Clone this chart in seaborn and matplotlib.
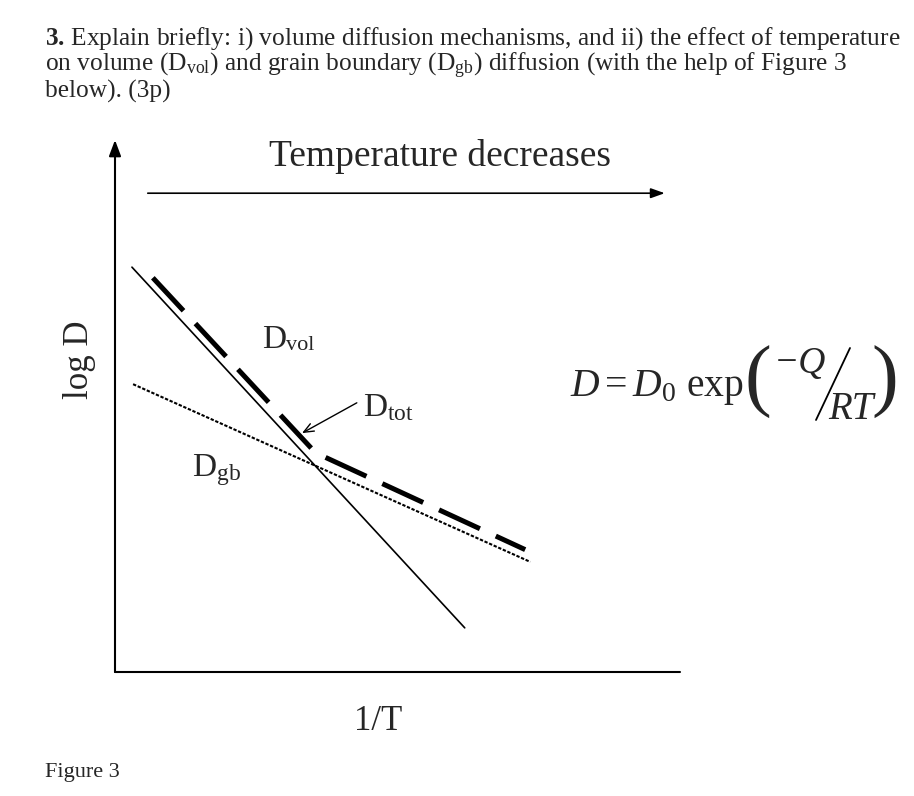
import matplotlib
matplotlib.use("Agg")

import matplotlib.pyplot as plt
import seaborn as sns
from matplotlib.lines import Line2D

sns.set_theme(style="white")
plt.rcParams["font.family"] = ["Liberation Serif", "DejaVu Serif"]
plt.rcParams["mathtext.fontset"] = "custom"
plt.rcParams["mathtext.rm"] = "Liberation Serif"
plt.rcParams["mathtext.it"] = "Liberation Serif:italic"
plt.rcParams["mathtext.bf"] = "Liberation Serif:bold"

# schematic Arrhenius lines (arbitrary units: x = 1/T, y = log D)
vol_x = [0.30, 6.19]
vol_y = [7.61, 0.83]
gb_x = [0.32, 7.35]
gb_y = [5.41, 2.07]
tot_x = [0.67, 3.55, 7.26]
tot_y = [7.41, 4.12, 2.30]

question = [
    r"$\mathbf{3.}\,$Explain briefly: i) volume diffusion mechanisms, and ii) the effect of temperature",
    r"on volume (D$_{\rm vol}$) and grain boundary (D$_{\rm gb}$) diffusion (with the help of Figure 3",
    "below). (3p)",
]

W, H = 914, 796


def fx(px):
    return px / W


def fy(py):
    return 1 - py / H


fig = plt.figure(figsize=(W / 100, H / 100), dpi=100)
ax = fig.add_axes([fx(115), fy(672), 565 / W, 532 / H])
ax.set_xlim(0, 10)
ax.set_ylim(0, 10)
ax.axis("off")

sns.lineplot(x=vol_x, y=vol_y, ax=ax, color="black", linewidth=1.2)
sns.lineplot(x=gb_x, y=gb_y, ax=ax, color="black", linewidth=1.5,
             linestyle=(0, (1.6, 0.8)))
sns.lineplot(x=tot_x, y=tot_y, ax=ax, color="black", linewidth=3.6,
             linestyle=(0, (9, 3.5)), sort=False)

# axes: y with arrowhead, plain x
ax.annotate("", xy=(0, 1.0), xytext=(0, 0), xycoords="axes fraction",
            arrowprops=dict(arrowstyle="-|>,head_length=0.8,head_width=0.3",
                            color="black", lw=1.5, shrinkA=0, shrinkB=0),
            annotation_clip=False)
ax.annotate("", xy=(1.0, 0), xytext=(0, 0), xycoords="axes fraction",
            arrowprops=dict(arrowstyle="-", color="black", lw=1.5,
                            shrinkA=0, shrinkB=0),
            annotation_clip=False)

# temperature arrow
ax.annotate("", xy=(9.73, 9.0), xytext=(0.58, 9.0),
            arrowprops=dict(arrowstyle="-|>,head_length=0.7,head_width=0.25",
                            color="black", lw=1.2, shrinkA=0, shrinkB=0),
            annotation_clip=False)

# D_tot pointer
ax.annotate("", xy=(3.31, 4.49), xytext=(4.28, 5.06),
            arrowprops=dict(arrowstyle="->,head_length=0.6,head_width=0.25",
                            color="black", lw=1.0, shrinkA=0, shrinkB=0))

# question text as one block
fig.text(fx(45), fy(25), "\n".join(question), fontsize=18.3, va="top",
         ha="left", linespacing=0.95)

fig.text(fx(440), fy(157), "Temperature decreases", fontsize=27,
         ha="center", va="center")
fig.text(fx(80), fy(360), "log D", fontsize=25, rotation=90,
         ha="center", va="center")
fig.text(fx(378), fy(722), "1/T", fontsize=25, ha="center", va="center")
fig.text(fx(45), fy(772), "Figure 3", fontsize=16, ha="left", va="center")

fig.text(fx(262), fy(340), "D", fontsize=24, ha="left", va="center")
fig.text(fx(286), fy(345), "vol", fontsize=16, ha="left", va="center")
fig.text(fx(363), fy(408), r"D$_{\rm tot}$", fontsize=24, ha="left", va="center")
fig.text(fx(192), fy(470), r"D$_{\rm gb}$", fontsize=24, ha="left", va="center")

# Arrhenius formula, assembled piece by piece
fig.text(fx(570), fy(396), r"$D = D_{0}$ exp", fontsize=28.5,
         ha="left", va="baseline")
fig.text(fx(758), fy(382), "(", fontsize=58, ha="center", va="center")
fig.text(fx(800), fy(364), "\u2212Q", fontsize=27, style="italic",
         ha="center", va="center")
fig.add_artist(Line2D([fx(816), fx(850)], [fy(420), fy(348)],
                      color="black", lw=1.3))
fig.text(fx(851), fy(410), "RT", fontsize=28, style="italic",
         ha="center", va="center")
fig.text(fx(885), fy(382), ")", fontsize=58, ha="center", va="center")

fig.savefig("out.png", dpi=100, facecolor="white")
